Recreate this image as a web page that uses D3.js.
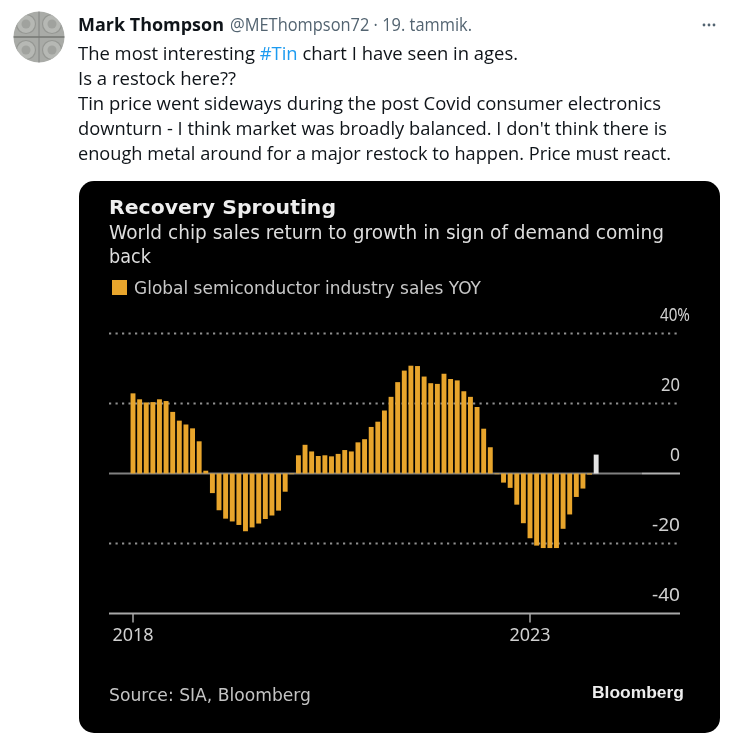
<!DOCTYPE html>
<html><head><meta charset="utf-8">
<script src="https://cdn.jsdelivr.net/npm/d3@7"></script>
<style>html,body{margin:0;padding:0;background:#fff}svg{display:block;filter:blur(0.35px)}</style>
</head><body><div id="c"></div>
<script>
const salesYoY = [22.9,21.2,20.3,20.4,21.2,20.7,17.6,15.1,14,12.9,9.2,0.8,
 -5.6,-10.5,-12.9,-13.7,-14.7,-16.5,-15.4,-14.3,-13,-12,-10.6,-5.2,
 -0.2,5.2,8.2,6.3,5,5.2,4.9,5.6,6.7,6.3,8.9,9.8,13.3,14.8,18,21.9,26.1,29.4,30.8,30.7,27.7,25.8,25.6,28.5,27,26.6,23.5,21.9,19,12.8,7.5,
 -0.2,-2.6,-4.1,-8.9,-14.2,-18.5,-20.6,-21.3,-21.3,-21.3,-15.8,-11.7,-6.7,-4.3,-0.3];
const latestValue = [5.4];
const gridValues = [40,20,-20];
const yTickValues = [40,20,0,-20,-40];
const yTickLabels = ["40%","20","0","-20","-40"];
const xTickIndex = [0,60];
const xTickLabels = ["2018","2023"];
const tweetLines = [
 ["The most interesting ","#Tin"," chart I have seen in ages."],
 ["Is a restock here??"],
 ["Tin price went sideways during the post Covid consumer electronics"],
 ["downturn - I think market was broadly balanced. I don't think there is"],
 ["enough metal around for a major restock to happen. Price must react."]];
const tweetLineWidths = [440,158,583,589,593];

const W=738,H=742;
const svg=d3.select("#c").append("svg").attr("width",W).attr("height",H);
const tw='"Open Sans","Noto Sans",sans-serif', cf='"DejaVu Sans",sans-serif', nf='"Noto Sans",sans-serif';

// tweet header
const ava=svg.append("g");
svg.append("clipPath").attr("id","av").append("circle").attr("cx",39).attr("cy",37).attr("r",25.5);
ava.attr("clip-path","url(#av)");
ava.append("rect").attr("x",13).attr("y",11).attr("width",52).attr("height",52).attr("fill","#a9aba7");
[[26,24],[52,24],[26,50],[52,50]].forEach(p=>{
  ava.append("circle").attr("cx",p[0]).attr("cy",p[1]).attr("r",9.5).attr("fill","#b6b8b4").attr("stroke","#959793").attr("stroke-width",1.2);
  ava.append("circle").attr("cx",p[0]).attr("cy",p[1]).attr("r",4.5).attr("fill","#a0a29e");
});
ava.append("line").attr("x1",13).attr("x2",65).attr("y1",37).attr("y2",37).attr("stroke","#5a5c59").attr("stroke-width",1.2);
ava.append("line").attr("x1",39).attr("x2",39).attr("y1",11).attr("y2",63).attr("stroke","#7a7c78").attr("stroke-width",0.8);

svg.append("text").attr("x",78).attr("y",30.5).attr("font-family",tw).attr("font-weight",700).attr("font-size",17.5)
  .attr("fill","#0f1419").attr("textLength",146).attr("lengthAdjust","spacingAndGlyphs").text("Mark Thompson");
svg.append("text").attr("x",230).attr("y",30.5).attr("font-family",tw).attr("font-size",17.5)
  .attr("fill","#536471").attr("textLength",242).attr("lengthAdjust","spacingAndGlyphs").text("@METhompson72 · 19. tammik.");
svg.selectAll("circle.dot").data([-5,0,5]).join("circle").attr("class","dot").attr("cx",d=>709+d).attr("cy",25).attr("r",1.4).attr("fill","#536471");

tweetLines.forEach((parts,i)=>{
  const t=svg.append("text").attr("x",78).attr("y",59.5+i*25).attr("font-family",tw).attr("font-size",18).attr("fill","#0f1419");
  parts.forEach(p=>t.append("tspan").attr("fill",p==="#Tin"?"#1d9bf0":"#0f1419").text(p));
  t.attr("textLength",tweetLineWidths[i]).attr("lengthAdjust","spacingAndGlyphs");
});

// card
svg.append("rect").attr("x",79).attr("y",181).attr("width",641).attr("height",552).attr("rx",15).attr("fill","#000");
svg.append("text").attr("x",109).attr("y",214).attr("font-family",cf).attr("font-weight",700).attr("font-size",20).attr("fill","#eeeeee")
  .attr("textLength",227).attr("lengthAdjust","spacingAndGlyphs").text("Recovery Sprouting");
svg.append("text").attr("x",109).attr("y",239).attr("font-family",cf).attr("font-size",19).attr("fill","#dedede")
  .attr("textLength",555).attr("lengthAdjust","spacingAndGlyphs").text("World chip sales return to growth in sign of demand coming");
svg.append("text").attr("x",109).attr("y",263).attr("font-family",cf).attr("font-size",19).attr("fill","#dedede")
  .attr("textLength",42).attr("lengthAdjust","spacingAndGlyphs").text("back");
svg.append("rect").attr("x",112).attr("y",280).attr("width",15).attr("height",15).attr("fill","#e8a52c");
svg.append("text").attr("x",134).attr("y",294).attr("font-family",cf).attr("font-size",17).attr("fill","#c8c8c8")
  .attr("textLength",347).attr("lengthAdjust","spacingAndGlyphs").text("Global semiconductor industry sales YOY");

// scales
const y=d3.scaleLinear().domain([-40,40]).range([613.5,333.5]);
const x=d3.scaleLinear().domain([0,60]).range([133,530]);
const barW=4.9, left=109, right=680;

// grid
svg.selectAll("line.grid").data(gridValues).join("line").attr("class","grid")
  .attr("x1",left).attr("x2",right).attr("y1",d=>y(d)).attr("y2",d=>y(d))
  .attr("stroke","#909090").attr("stroke-width",2).attr("stroke-dasharray","2.2 4.3");

// zero line
svg.append("line").attr("x1",left).attr("x2",642).attr("y1",y(0)).attr("y2",y(0)).attr("stroke","#808080").attr("stroke-width",1.8);
svg.append("line").attr("x1",642).attr("x2",right).attr("y1",y(0)).attr("y2",y(0)).attr("stroke","#b0b0b0").attr("stroke-width",1.8);

// bars
svg.selectAll("rect.bar").data(salesYoY).join("rect").attr("class","bar")
  .attr("x",(d,i)=>x(i)-barW/2).attr("width",barW)
  .attr("y",d=>Math.min(y(d),y(0))).attr("height",d=>Math.abs(y(d)-y(0)))
  .attr("fill","#e8a52c");
svg.selectAll("rect.latest").data(latestValue).join("rect").attr("class","latest")
  .attr("x",(d,i)=>x(salesYoY.length+i)-barW/2).attr("width",barW)
  .attr("y",d=>y(d)).attr("height",d=>y(0)-y(d)).attr("fill","#e4e4e4");

// y labels
svg.selectAll("text.yl").data(yTickValues).join("text").attr("class","yl")
  .attr("x",(d,i)=>i===0?660:(680-[0,19,10,28,28][i])).attr("y",d=>y(d)-13)
  .attr("font-family",nf).attr("font-size",18).attr("fill","#d0d0d0")
  .attr("textLength",(d,i)=>[30,19,10,28,28][i]).attr("lengthAdjust","spacingAndGlyphs")
  .text((d,i)=>yTickLabels[i]);

// x axis
const axisY=y(-40);
svg.append("line").attr("x1",left).attr("x2",right).attr("y1",axisY).attr("y2",axisY).attr("stroke","#a8a8a8").attr("stroke-width",1.8);
svg.selectAll("line.xt").data(xTickIndex).join("line").attr("class","xt")
  .attr("x1",d=>x(d)).attr("x2",d=>x(d)).attr("y1",axisY).attr("y2",axisY+9).attr("stroke","#a8a8a8").attr("stroke-width",1.5);
svg.selectAll("text.xl").data(xTickIndex).join("text").attr("class","xl")
  .attr("x",d=>x(d)).attr("y",641).attr("text-anchor","middle")
  .attr("font-family",nf).attr("font-size",18).attr("fill","#d0d0d0").text((d,i)=>xTickLabels[i]);

// footer
svg.append("text").attr("x",109).attr("y",701).attr("font-family",cf).attr("font-size",17).attr("fill","#c4c4c4")
  .attr("textLength",202).attr("lengthAdjust","spacingAndGlyphs").text("Source: SIA, Bloomberg");
svg.append("text").attr("x",592).attr("y",698).attr("font-family",'"Liberation Sans",sans-serif').attr("font-weight",700).attr("font-size",17).attr("fill","#eeeeee")
  .attr("textLength",92).attr("lengthAdjust","spacingAndGlyphs").text("Bloomberg");
</script></body></html>
